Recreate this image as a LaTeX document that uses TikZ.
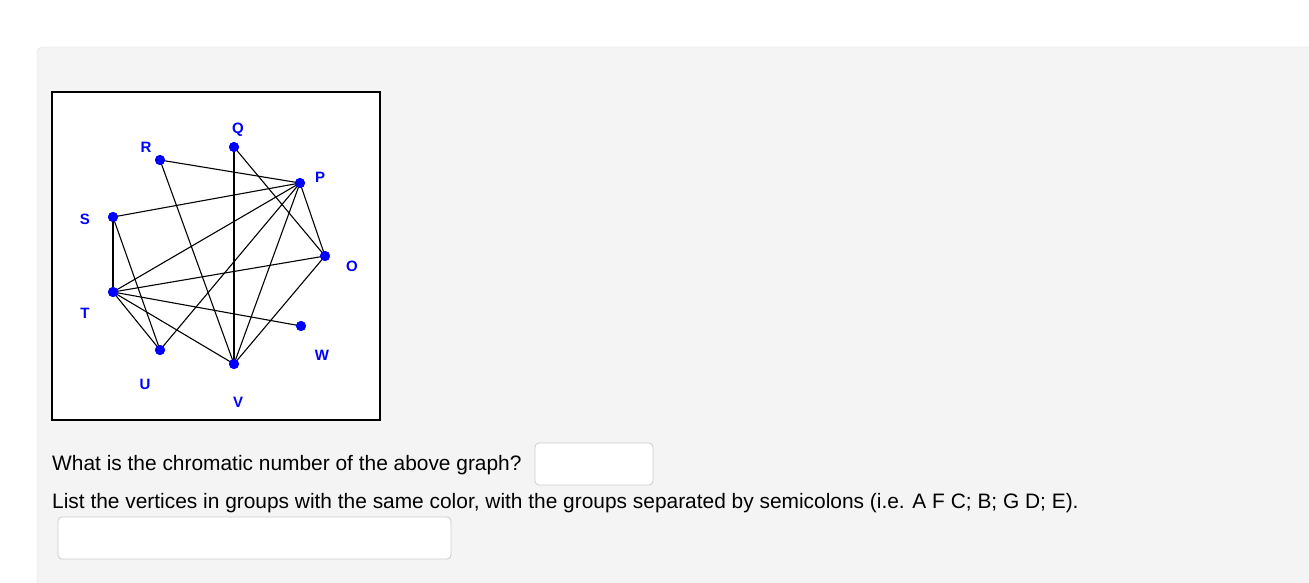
\documentclass[tikz,border=0pt]{standalone}
\usepackage{fontspec}
\setmainfont{Liberation Sans}
\definecolor{panelgray}{HTML}{F4F4F4}
\definecolor{panelline}{HTML}{E2E2E2}
\definecolor{boxline}{HTML}{CCCCCC}
\definecolor{dotblue}{HTML}{0000FF}
\tikzset{
  vertex/.style={circle, fill=dotblue, inner sep=0pt, minimum size=10pt},
  vlabel/.style={text=dotblue, font=\fontsize{15}{15}\selectfont\bfseries, inner sep=0pt},
  edge/.style={line width=1.1pt, black},
  answerbox/.style={draw=boxline, fill=white, rounded corners=4pt, line width=0.8pt},
  question/.style={anchor=base west, inner sep=0pt, font=\fontsize{20.9}{21}\selectfont}
}
\begin{document}
\begin{tikzpicture}[x=1pt, y=-1pt]
				\useasboundingbox (0,0) rectangle (1309,583);
				\fill[white] (0,0) rectangle (1309,583);
				%panel
				\draw[panelline, fill=panelgray, rounded corners=5pt] (37,47) -- (1320,47) -- (1320,600) -- (37,600) -- cycle;
				\draw[line width=1.2pt, fill=white] (52,92) rectangle (380,420);
				%vertices
				\node[vertex] (Q) at (234,147) {};
				\node[vertex] (R) at (160,160) {};
				\node[vertex] (P) at (300,183) {};
				\node[vertex] (S) at (113,217) {};
				\node[vertex] (O) at (325,256) {};
				\node[vertex] (T) at (113,292) {};
				\node[vertex] (W) at (301,326) {};
				\node[vertex] (U) at (160,350) {};
				\node[vertex] (V) at (234,364) {};
				%labels
				\node[vlabel] (lQ) at (238,130) {Q};
				\node[vlabel] (lR) at (146,147) {R};
				\node[vlabel] (lP) at (320,177) {P};
				\node[vlabel] (lS) at (85,219) {S};
				\node[vlabel] (lO) at (352,266) {O};
				\node[vlabel] (lT) at (85,313) {T};
				\node[vlabel] (lW) at (322,355) {W};
				\node[vlabel] (lU) at (145,384) {U};
				\node[vlabel] (lV) at (238,402) {V};
				%edges
				\foreach \a/\b in {R/P, R/V, Q/V, Q/O, S/P, S/T, S/U, T/P, T/O, T/W, T/U, T/V, P/O, P/U, P/V, O/V} {
					\draw[edge] (\a.center) -- (\b.center);
				}
				\foreach \v in {Q,R,P,S,O,T,W,U,V} {
					\fill[dotblue] (\v) circle (5pt);
				}
				%question
				\node[question] (q1) at (52,470) {What is the chromatic number of the above graph?};
				\node[answerbox, minimum width=118pt, minimum height=42pt] (a1) at (594,464) {};
				\node[question] (q2) at (52,508) {List the vertices in groups with the same color, with the groups separated by semicolons (i.e. A F C; B; G D; E).};
				\node[answerbox, minimum width=393pt, minimum height=42pt] (a2) at (254.5,538) {};
\end{tikzpicture}
\end{document}
